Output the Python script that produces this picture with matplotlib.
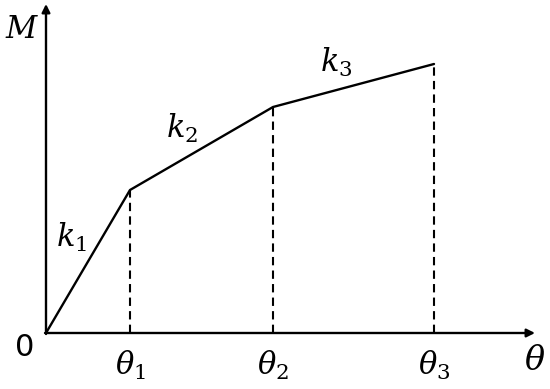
import matplotlib.pyplot as plt

# M-theta piecewise curve (arbitrary units)
theta = [0.0, 0.84, 2.27, 3.88]
moment = [0.0, 1.43, 2.26, 2.69]
theta_labels = [r'$\theta_1$', r'$\theta_2$', r'$\theta_3$']
slope_labels = [r'$k_1$', r'$k_2$', r'$k_3$']
slope_pos = [(0.25, 0.96), (1.36, 2.05), (2.90, 2.71)]

plt.rcParams['mathtext.fontset'] = 'dejavuserif'
plt.rcParams['font.family'] = 'DejaVu Serif'

fig = plt.figure(figsize=(5.5, 3.89), dpi=100)
ax = fig.add_axes([0, 0, 1, 1])
ax.set_xlim(-0.46, 5.04)
ax.set_ylim(-0.56, 3.33)
ax.axis('off')

# axes with arrows
ax.annotate('', xy=(4.89, 0), xytext=(-0.01, 0),
            arrowprops=dict(arrowstyle='-|>', lw=1.7, color='black',
                            mutation_scale=12, shrinkA=0, shrinkB=0))
ax.annotate('', xy=(0, 3.29), xytext=(0, -0.01),
            arrowprops=dict(arrowstyle='-|>', lw=1.7, color='black',
                            mutation_scale=12, shrinkA=0, shrinkB=0))

ax.plot(theta, moment, color='black', lw=1.7, solid_capstyle='round')

for t, m, lab in zip(theta[1:], moment[1:], theta_labels):
    ax.plot([t, t], [0, m], color='black', lw=1.5, linestyle=(0, (4, 2.5)))
    ax.text(t, -0.32, lab, fontsize=22, ha='center', va='center')

for (x, y), lab in zip(slope_pos, slope_labels):
    ax.text(x, y, lab, fontsize=22, ha='center', va='center')

ax.text(-0.24, 3.03, r'$M$', fontsize=22, ha='center', va='center')
ax.text(-0.21, -0.15, '0', fontsize=22, ha='center', va='center',
        family='DejaVu Sans')
ax.text(4.89, -0.28, r'$\theta$', fontsize=24, ha='center', va='center')

fig.savefig('out.png', dpi=100)
